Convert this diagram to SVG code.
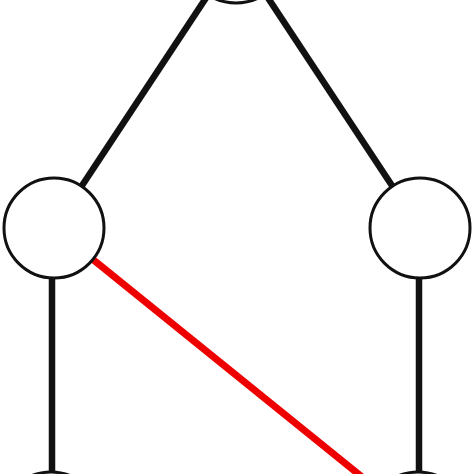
<svg xmlns="http://www.w3.org/2000/svg" width="474" height="474" viewBox="0 0 474 474">
<style>
.edge{stroke:#111;stroke-width:6.5;fill:none}
.red{stroke:#ee0000;stroke-width:7;fill:none}
.node{fill:#fff;stroke:#111;stroke-width:3}
</style>
<rect width="474" height="474" fill="#fff"/>
<g id="connectors">
<line class="edge" x1="237" y1="-49" x2="54" y2="228"/>
<line class="edge" x1="237" y1="-49" x2="420" y2="228"/>
<line class="edge" x1="52" y1="228" x2="52" y2="523"/>
<line class="edge" x1="419" y1="228" x2="419" y2="523"/>
<line class="red" x1="54" y1="228" x2="419" y2="523"/>
</g>
<g id="n-top"><circle class="node" cx="236" cy="-48" r="51" stroke-width="4"/></g>
<g id="n-left"><circle class="node" cx="54" cy="228" r="50"/></g>
<g id="n-right"><circle class="node" cx="420" cy="228" r="50"/></g>
<g id="n-bottom-left"><circle class="node" cx="51" cy="523" r="51"/></g>
<g id="n-bottom-right"><circle class="node" cx="418" cy="523" r="51"/></g>
</svg>
